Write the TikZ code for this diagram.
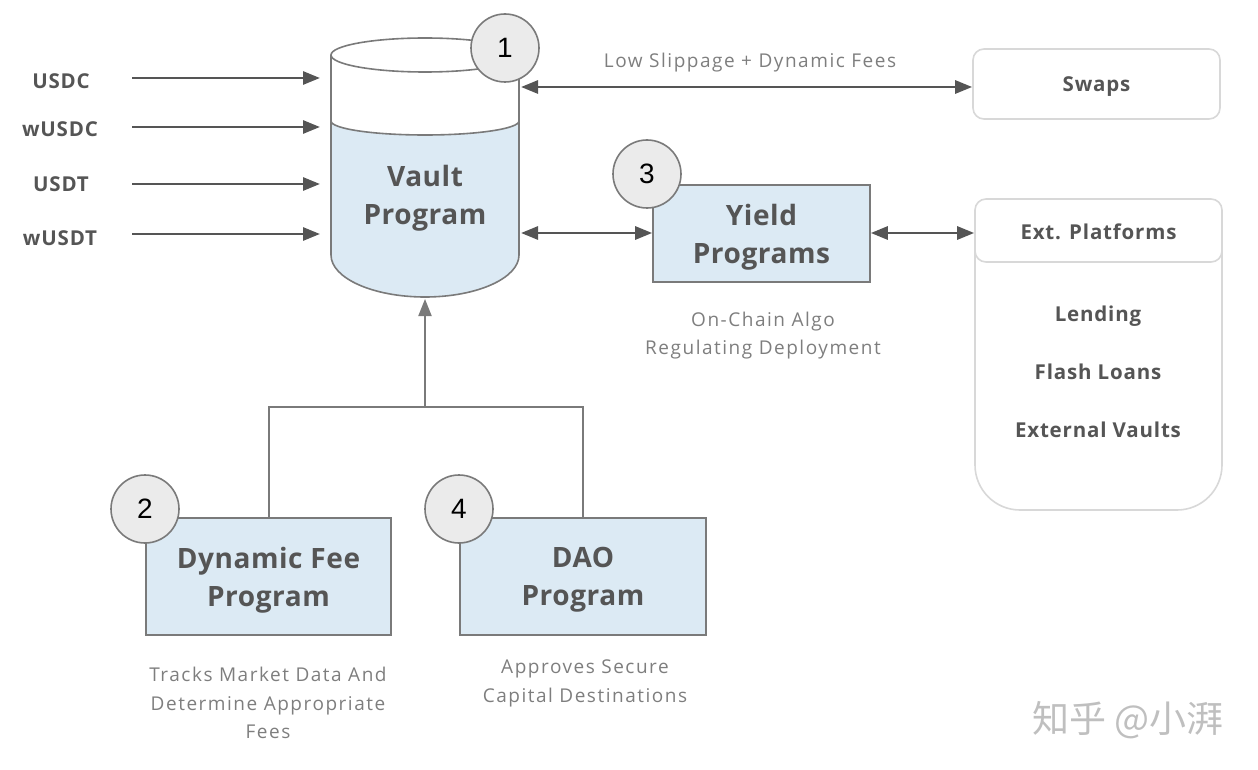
\documentclass[tikz,border=0pt]{standalone}
\usepackage{fontspec}
\setmainfont{Open Sans}
\newfontfamily\numfont{Liberation Sans}
\newfontfamily\cjk{Noto Sans CJK SC}
\usetikzlibrary{arrows.meta}
\definecolor{ink}{HTML}{555555}
\definecolor{boxline}{HTML}{7A7A7A}
\definecolor{boxfill}{HTML}{DCEAF4}
\definecolor{capgray}{HTML}{7E7E7E}
\definecolor{softline}{HTML}{D8D8D8}
\definecolor{circfill}{HTML}{EBEBEB}
\tikzset{
  big/.style={font=\fontsize{28}{38}\selectfont\bfseries\addfontfeatures{LetterSpace=2}, text=ink, align=center},
  mid/.style={font=\fontsize{20.5}{24}\selectfont\bfseries\addfontfeatures{LetterSpace=4}, text=ink, align=center},
  captext/.style={font=\fontsize{19}{28.5}\selectfont\addfontfeatures{LetterSpace=8}, text=capgray, align=center},
  prog/.style={draw=boxline, line width=1.6pt, fill=boxfill},
  numc/.style={circle, draw=boxline, line width=1.6pt, fill=circfill, minimum size=68pt, inner sep=0pt, font=\numfont\fontsize{28}{30}\selectfont, text=black},
  flow/.style={draw=ink, line width=2.8pt, -{Triangle[length=17pt,width=13pt]}},
  dflow/.style={draw=ink, line width=2.8pt, {Triangle[length=17pt,width=13pt]}-{Triangle[length=17pt,width=13pt]}},
  tree/.style={draw=boxline, line width=2pt},
  soft/.style={draw=softline, line width=1.6pt},
}
\begin{document}
\begin{tikzpicture}[x=1pt,y=-1pt]
\useasboundingbox (0,0) rectangle (1258,770);
% ---- Vault cylinder
\fill[white] (331,55) -- (331,255) arc[start angle=180,end angle=0,x radius=94,y radius=42] -- (519,55) -- cycle;
\fill[boxfill] (331,121) arc[start angle=180,end angle=0,x radius=94,y radius=14] -- (519,255) arc[start angle=0,end angle=180,x radius=94,y radius=42] -- cycle;
\draw[boxline, line width=1.6pt] (331,55) -- (331,255) arc[start angle=180,end angle=0,x radius=94,y radius=42] -- (519,55);
\draw[boxline, line width=1.6pt] (425,55) ellipse[x radius=94,y radius=17];
\draw[boxline, line width=1.6pt] (331,121) arc[start angle=180,end angle=0,x radius=94,y radius=14];
\node[big] (vault) at (425,198) {Vault\\Program};
\node[numc] (n1) at (505,48) {1};
% ---- inputs
\node[mid] (usdc) at (61,81) {USDC};
\node[mid] (wusdc) at (60,129) {wUSDC};
\node[mid] (usdt) at (61,184) {USDT};
\node[mid] (wusdt) at (60,238.5) {wUSDT};
\coordinate (a1s) at (132,78);  \coordinate (a1e) at (320,78);
\coordinate (a2s) at (132,127); \coordinate (a2e) at (320,127);
\coordinate (a3s) at (132,184); \coordinate (a3e) at (320,184);
\coordinate (a4s) at (132,234); \coordinate (a4e) at (320,234);
\draw[flow] (a1s) -- (a1e);
\draw[flow] (a2s) -- (a2e);
\draw[flow] (a3s) -- (a3e);
\draw[flow] (a4s) -- (a4e);
% ---- Swaps
\node[soft, rounded corners=11pt, minimum width=247pt, minimum height=70pt] (swaps) at (1096.5,84) {};
\node[mid] (swapst) at (1096.5,87) {Swaps};
\coordinate (vtop) at (521,87);
\draw[dflow] (vtop) -- (swaps.west |- vtop);
\node[captext] (lsl) at (750,63) {Low Slippage + Dynamic Fees};
% ---- Ext platforms
\draw[soft, fill=white, rounded corners=45pt] (975,240) -- (975,510) -- (1222,510) -- (1222,240);
\node[soft, fill=white, rounded corners=11pt, minimum width=247pt, minimum height=63pt] (ext) at (1098.5,230.5) {};
\node[mid] (extt) at (1098.5,232) {Ext. Platforms};
\node[mid] (lend) at (1098,316) {Lending};
\node[mid] (flash) at (1098,372) {Flash Loans};
\node[mid] (extv) at (1098,430) {External Vaults};
% ---- Yield
\node[prog, minimum width=217pt, minimum height=97pt] (yield) at (761.5,233.5) {};
\node[big] (yieldt) at (761.5,237) {Yield\\Programs};
\node[numc] (n3) at (647,174) {3};
\node[captext] (ycap) at (763,335.5) {On-Chain Algo\\Regulating Deployment};
\coordinate (vmid) at (521,233);
\draw[dflow] (vmid) -- (yield.west |- vmid);
\draw[dflow] (yield.east |- vmid) -- (ext.west |- vmid);
% ---- bottom programs
\node[prog, minimum width=245pt, minimum height=117pt] (dyn) at (268.5,576.5) {};
\node[big] (dynt) at (268.5,580) {Dynamic Fee\\Program};
\node[prog, minimum width=246pt, minimum height=117pt] (dao) at (583,576.5) {};
\node[big] (daot) at (583,580) {DAO\\Program};
\node[numc] (n2) at (145,509) {2};
\node[numc] (n4) at (459,509) {4};
\node[captext] (dcap) at (268,703) {Tracks Market Data And\\Determine Appropriate\\Fees};
\node[captext] (acap) at (585,683.5) {Approves Secure\\Capital Destinations};
% ---- tree
\coordinate (vbot) at (425,299);
\coordinate (join) at (425,407);
\draw[tree] (dyn.north) -- (dyn.north |- join) -- (dao.north |- join) -- (dao.north);
\draw[flow, line width=2pt, draw=boxline] (join) -- (vbot);
% ---- watermark
\node[font=\cjk\fontsize{37}{40}\selectfont, text=black!25] (wm) at (1128,720) {知乎 @小湃};
\end{tikzpicture}
\end{document}
